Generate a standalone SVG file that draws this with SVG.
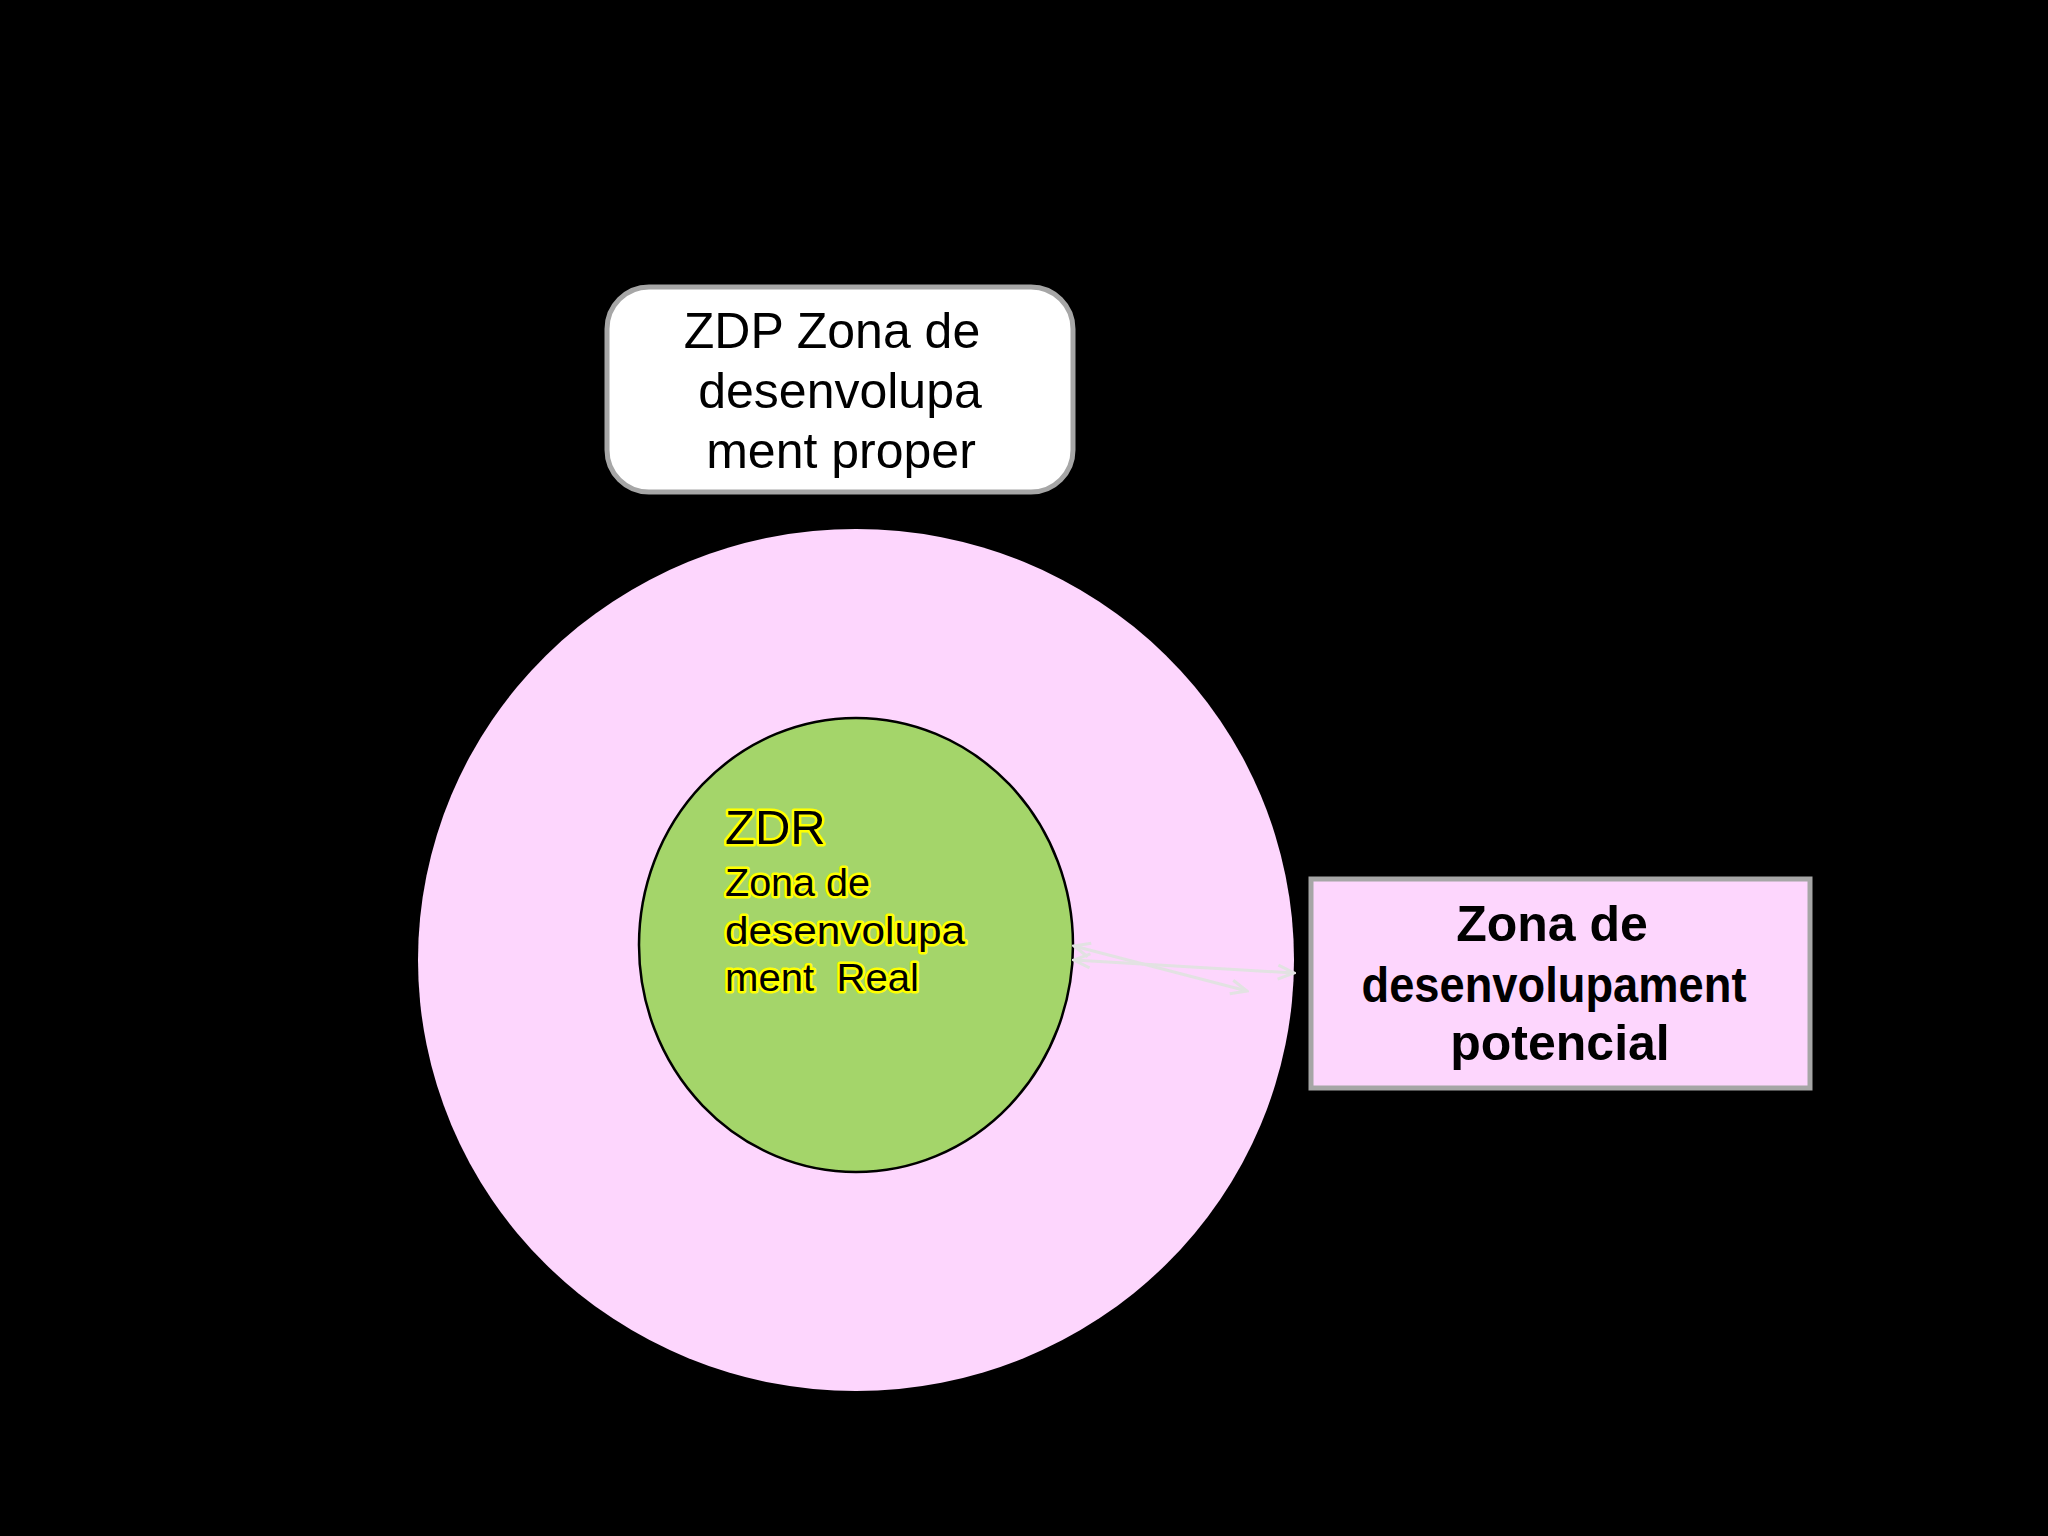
<svg xmlns="http://www.w3.org/2000/svg" width="2048" height="1536" viewBox="0 0 2048 1536">
  <defs>
    <style>
      .bg { fill: #000000; }
      .outer { fill: #fdd6fd; }
      .inner { fill: #a4d56a; stroke: #000000; stroke-width: 2.5; }
      .topbox { fill: #ffffff; stroke: #a6a6a6; stroke-width: 5; }
      .sidebox { fill: #fdd6fd; stroke: #a6a6a6; stroke-width: 5; }
      .t-top { font-family: "Liberation Sans", Arial, sans-serif; font-size: 50px; fill: #000000; text-anchor: middle; }
      .t-side { font-family: "Liberation Sans", Arial, sans-serif; font-weight: bold; font-size: 50px; fill: #000000; text-anchor: middle; }
      .t-zdr { font-family: "Liberation Sans", Arial, sans-serif; fill: #000000; stroke: #ffff00; stroke-width: 5; paint-order: stroke; stroke-linejoin: round; }
      .conn { fill: none; stroke: #e2e2e2; stroke-width: 3; }
    </style>
    <marker id="arrow" viewBox="0 0 20 20" refX="18" refY="10" markerWidth="20" markerHeight="20" markerUnits="userSpaceOnUse" orient="auto-start-reverse">
      <path d="M2,3 L18,10 L2,17" fill="none" stroke="#e2e2e2" stroke-width="3"/>
    </marker>
  </defs>
  <rect class="bg" x="0" y="0" width="2048" height="1536"/>

  <g id="outer-zone">
    <ellipse class="outer" cx="856" cy="960" rx="438" ry="431"/>
  </g>

  <g id="zdr">
    <ellipse class="inner" cx="856" cy="945" rx="217" ry="227"/>
    <text class="t-zdr" x="725" y="844" font-size="49">ZDR</text>
    <text class="t-zdr" x="725" y="896" font-size="39" textLength="145" lengthAdjust="spacingAndGlyphs">Zona de</text>
    <text class="t-zdr" x="725" y="944" font-size="39" textLength="240" lengthAdjust="spacingAndGlyphs">desenvolupa</text>
    <text class="t-zdr" x="725" y="991" font-size="39" textLength="194" lengthAdjust="spacingAndGlyphs" xml:space="preserve">ment  Real</text>
  </g>

  <g id="zdp">
    <rect class="topbox" x="607" y="287" width="466" height="205" rx="42" ry="42"/>
    <text class="t-top" x="832" y="348">ZDP Zona de</text>
    <text class="t-top" x="840" y="408">desenvolupa</text>
    <text class="t-top" x="841" y="468">ment proper</text>
  </g>

  <g id="potencial">
    <rect class="sidebox" x="1311" y="879" width="499" height="209"/>
    <text class="t-side" x="1552" y="941">Zona de</text>
    <text class="t-side" x="1554" y="1002" textLength="385" lengthAdjust="spacingAndGlyphs">desenvolupament</text>
    <text class="t-side" x="1560" y="1060">potencial</text>
  </g>

  <g id="connectors">
    <line class="conn" x1="1074" y1="946" x2="1247" y2="991" marker-start="url(#arrow)" marker-end="url(#arrow)"/>
    <line class="conn" x1="1074" y1="960" x2="1294" y2="973" marker-start="url(#arrow)" marker-end="url(#arrow)"/>
  </g>
</svg>
